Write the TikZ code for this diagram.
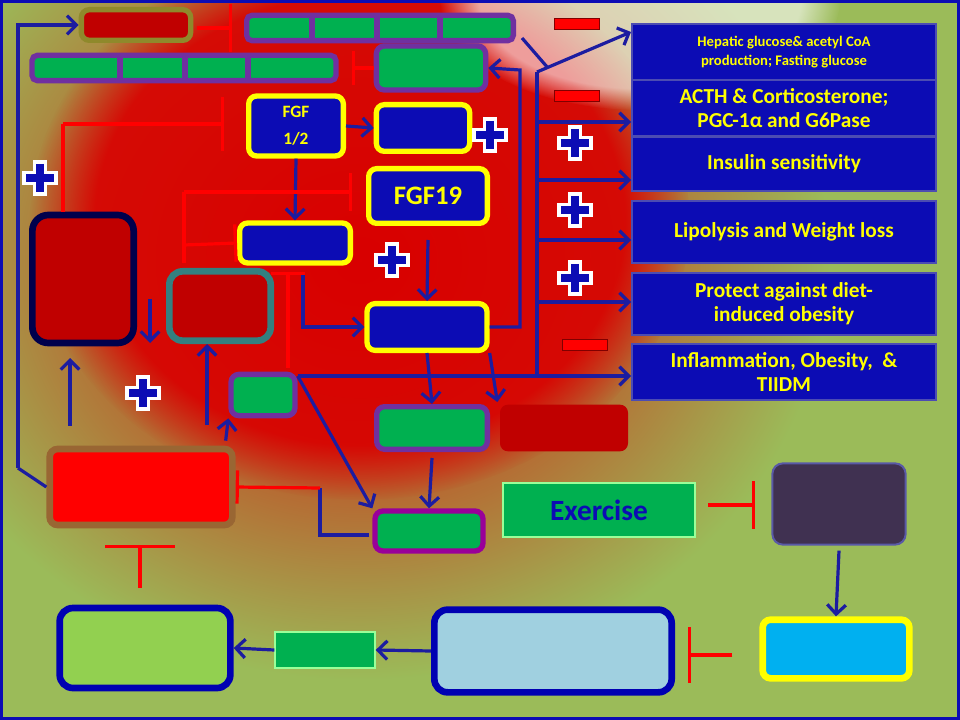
\documentclass[tikz,border=0pt]{standalone}
\usepackage{fontspec}
\setmainfont{Carlito}
\usetikzlibrary{arrows.meta,fadings}
\definecolor{bg}{HTML}{9BBB59}
\definecolor{dred}{HTML}{C00000}
\definecolor{grn}{HTML}{00B050}
\definecolor{pur}{HTML}{7030A0}
\definecolor{nb}{HTML}{0C0CB4}
\definecolor{arr}{HTML}{1C1CA0}
\definecolor{ylw}{HTML}{FFFF00}
\definecolor{ltb}{HTML}{A0D0E0}
\definecolor{ltg}{HTML}{92D050}
\definecolor{dpur}{HTML}{403151}
\definecolor{cyn}{HTML}{00B0F0}
\begin{document}
\begin{tikzpicture}[x=0.75pt,y=-0.75pt,
 box/.style={draw, rounded corners=6pt, line width=4pt, inner sep=0pt},
 blu/.style={box, fill=nb, draw=ylw, text=ylw, font=\bfseries, align=center},
 grb/.style={box, fill=grn, draw=pur},
 rbx/.style={draw=gray!60!blue, line width=1.5pt, fill=nb, text=ylw, font=\bfseries\fontsize{16}{18}\selectfont, align=center, minimum width=228pt, inner sep=1pt},
 ar/.style={draw=arr, line width=2.4pt, -{Straight Barb[length=7pt,width=14pt]}},
 ln/.style={draw=arr, line width=2.4pt},
 tb/.style={draw=red, line width=2.4pt, -{Bar[width=#1]}},
 rl/.style={draw=red, line width=2.4pt},
 mn/.style={draw=red!50!black, fill=red, line width=1pt, minimum width=34pt, minimum height=8pt, inner sep=0pt}
]
\useasboundingbox (0,0) rectangle (960,720);
% background
\fill[bg] (0,0) rectangle (960,720);
\shade[inner color=red!85!black, outer color=bg] (360,260) ellipse (470 and 420);
\fill[red!85!black, path fading=circle with fuzzy edge 20 percent, opacity=0.9] (360,220) ellipse (330 and 280);
\fill[white, path fading=circle with fuzzy edge 20 percent, opacity=0.6] (640,0) ellipse (200 and 110);
\draw[nb, line width=2.5pt] (1.5,1.5) rectangle (958.5,718.5);
\newcommand\pl[2]{\draw[white, line width=11pt] (#1-18,#2) -- (#1+18,#2) (#1,#2-18) -- (#1,#2+18);
 \draw[nb, line width=6pt] (#1-14,#2) -- (#1+14,#2) (#1,#2-14) -- (#1,#2+14);}

% boxes
\node[box, fill=dred, draw=olive!70!gray, minimum width=82pt, minimum height=23pt] (rtop) at (136,25) {};
\node[grb, minimum width=200pt, minimum height=19pt, rounded corners=4pt] (s1) at (380,28) {};
\foreach \x in {312,377,440} \draw[pur, line width=4pt] (\x,16) -- (\x,40);
\node[grb, minimum width=228pt, minimum height=19pt, rounded corners=4pt] (s2) at (184,68) {};
\foreach \x in {120,185,248} \draw[pur, line width=4pt] (\x,56) -- (\x,80);
\node[grb, minimum width=82pt, minimum height=33pt] (gtop) at (431,68) {};
\node[blu, minimum width=71pt, minimum height=45pt, font=\bfseries\fontsize{13}{20}\selectfont] (fgf) at (296,126) {FGF\\1/2};
\node[blu, minimum width=70pt, minimum height=35pt] (b1) at (423,128) {};
\node[blu, minimum width=89pt, minimum height=41pt, font=\bfseries\fontsize{20}{22}\selectfont] (f19) at (428,196) {FGF19};
\node[blu, minimum width=83pt, minimum height=30pt] (b2) at (295,243) {};
\node[blu, minimum width=90pt, minimum height=35pt] (b3) at (427,327) {};
\node[grb, minimum width=83pt, minimum height=32pt] (g2) at (432,428) {};
\node[box, fill=dred, draw=none, minimum width=96pt, minimum height=35pt] (r2) at (564,428) {};
\node[grb, draw=violet!80!magenta, minimum width=81pt, minimum height=30pt] (g3) at (429,531) {};
\node[grb, minimum width=48pt, minimum height=31pt] (gs) at (263,395) {};
\node[box, fill=dred, draw=blue!30!black, line width=5pt, rounded corners=12pt, minimum width=76pt, minimum height=96pt] (R1) at (83,279) {};
\node[box, fill=dred, draw=teal!60!gray, line width=5pt, rounded corners=10pt, minimum width=76pt, minimum height=52pt] (R2) at (220,306) {};
\node[box, fill=red, draw=brown!80!black, line width=5pt, minimum width=137pt, minimum height=57pt] (R3) at (141,487) {};
\node[draw=green!40!white, line width=1.5pt, fill=grn, minimum width=144pt, minimum height=40pt, text=nb, font=\bfseries\fontsize{22}{24}\selectfont] (ex) at (599,510) {Exercise};
\node[box, fill=dpur, draw=blue!30!gray, line width=1.5pt, rounded corners=8pt, minimum width=100pt, minimum height=61pt] (dp) at (839,504) {};
\node[box, fill=cyn, draw=ylw, line width=5pt, minimum width=110pt, minimum height=44pt] (cy) at (836,649) {};
\node[box, fill=ltb, draw=blue!70!black, line width=5pt, rounded corners=10pt, minimum width=178pt, minimum height=62pt] (lb) at (553,651) {};
\node[draw=green!40!white, line width=1pt, fill=grn, minimum width=75pt, minimum height=27pt, inner sep=0pt] (gr) at (325,650) {};
\node[box, fill=ltg, draw=blue!70!black, line width=5pt, rounded corners=10pt, minimum width=128pt, minimum height=60pt] (lg) at (145,648) {};

% right boxes
\node[rbx, minimum height=42pt, font=\bfseries\fontsize{11}{14}\selectfont] (o1) at (784,52) {Hepatic glucose\& acetyl CoA\\production; Fasting glucose};
\node[rbx, minimum height=42pt] (o2) at (784,108) {ACTH \& Corticosterone;\\PGC-1α and G6Pase};
\node[rbx, minimum height=41pt] (o3) at (784,164) {Insulin sensitivity};
\node[rbx, minimum height=47pt] (o4) at (784,232) {Lipolysis and Weight loss};
\node[rbx, minimum height=47pt] (o5) at (784,304) {Protect against diet-\\induced obesity};
\node[rbx, minimum height=42pt] (o6) at (784,372) {Inflammation, Obesity,~ \&\\TIIDM};

% minus and plus
\node[mn] (m1) at (577,24) {};
\node[mn] (m2) at (577,96) {};
\node[mn] (m3) at (585,345) {};
\pl{575}{143}\pl{575}{210}\pl{575}{278}\pl{490}{135}\pl{392}{260}\pl{40}{178}\pl{143}{393}

% blue connectors
\coordinate (c1) at (18,468);
\draw[ln] (R3.west) -- (c1);
\draw[ar] (c1) |- (rtop.west);
\draw[ar] (b3.east) -| (520,70) -- (gtop.east);
\draw[ln] (537,375) -- (537,72);
\draw[ar] (537,72) -- (o1.west |- 0,32);
\draw[ln] (522,38) -- (548,68);
\foreach \y in {122,180,240,302} \draw[ar] (537,\y) -- (o1.west |- 0,\y);
\draw[ar] (gs.east |- 0,376) -- (o6.west |- 0,376);
\draw[ar] (fgf.east) -- (b1.west);
\draw[ar] (fgf.south) -- (b2.north);
\draw[ar] (f19.south) ++(0,14) -- (b3.north);
\draw[ar] (b2.south east) ++(-50,6) |- (b3.west);
\draw[ar] (b3.south) -- (g2.north);
\draw[ar] (b3.south east) -- (r2.north west);
\draw[ar] (g2.south) ++(0,6) -- (g3.north);
\draw[ar] (gs.east |- 0,376) -- (g3.north west);
\draw[ar] (R1.east) ++(13,20) -- ++(0,44);
\draw[ar] (R3.north -| R1) ++(-13,-20) -- (70,358);
\draw[ar] (207,425) -- (R2.south -| 207,0);
\draw[ar] (R3.north east) ++(-10,-5) -- (gs.south west);
\draw[ar] (dp.south) ++(0,5) -- (cy.north);
\draw[ar] (lb.west) -- (gr.east);
\draw[ar] (gr.west) -- (lg.east);
\draw[ln] (g3.west) ++(-3,4) -| (320,488);
\draw[tb=25pt] (320,488) -- (R3.east);

% red inhibitors
\draw[tb=36pt] (rtop.east) ++(4,3) -- (232,28);
\draw[tb=25pt] (gtop.west) -- (352,68);
\draw[rl] (R1.north -| 63,0) -- (63,124);
\draw[tb=40pt] (63,124) -- (224,124);
\draw[rl] (184,263) -- (184,192);
\draw[tb=28pt] (184,192) -- (352,192);
\draw[tb=28pt] (184,245) -- (b2.west);
\draw[tb=25pt] (288,368) -- (288,272);
\draw[tb=36pt] (ex.east) ++(12,-5) -- (755,505);
\draw[tb=42pt] (cy.west) ++(-27,6) -- (688,655);
\draw[tb=52pt] (140,588) -- (140,545);
\end{tikzpicture}
\end{document}
